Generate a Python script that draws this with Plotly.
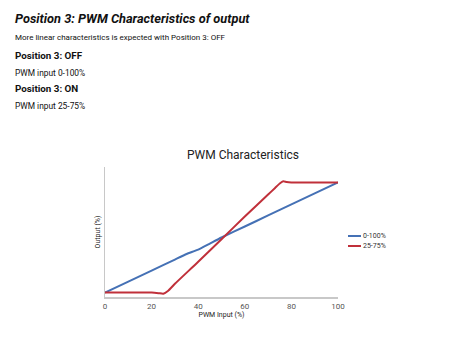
import plotly.graph_objects as go

# Data
pwm_input_full = [0, 10, 20, 30, 35, 40, 45, 50, 60, 70, 80, 90, 100]
output_full = [0, 10, 20, 30, 35, 39, 44.5, 50, 60, 70, 80, 90, 100]

pwm_input_limited = [0, 10, 20, 23, 25, 27, 30, 40, 50, 60, 70, 73, 75, 76.5, 78, 80, 90, 100]
output_limited = [0, 0, 0, -0.5, -1, 1.5, 8, 28, 48.5, 69, 89, 95, 99, 101, 100.3, 100, 100, 100]

series_names = ["0-100%", "25-75%"]
series_colors = ["#4571b5", "#c0303a"]
x_ticks = [0, 20, 40, 60, 80, 100]

OFF = 8  # page body margin
W, H = 458, 339
L, T = 105 - OFF, 167 - OFF
PR, PB = 338 - OFF, 297 - OFF
R, B = W - PR, H - PB
PW, PH = PR - L, PB - T

def px(x):
    return (x - OFF - L) / PW

def py(y):
    return (PB - (y - OFF)) / PH

FONT = "Roboto"

fig = go.Figure()
fig.add_trace(go.Scatter(x=pwm_input_full, y=output_full, mode="lines", name=series_names[0],
                         line=dict(color=series_colors[0], width=2, shape="spline", smoothing=0.5)))
fig.add_trace(go.Scatter(x=pwm_input_limited, y=output_limited, mode="lines", name=series_names[1],
                         line=dict(color=series_colors[1], width=2, shape="spline", smoothing=0.5)))

anns = [
    dict(text="<b><i>Position 3: PWM Characteristics of output</i></b>", x=px(13), y=py(18), size=12.8),
    dict(text="More linear characteristics is expected with Position 3: OFF", x=px(13), y=py(37), size=8),
    dict(text="<b>Position 3: OFF</b>", x=px(13), y=py(55), size=9.8),
    dict(text="PWM input 0-100%", x=px(13), y=py(73), size=8.4),
    dict(text="<b>Position 3: ON</b>", x=px(13), y=py(89), size=9.8),
    dict(text="PWM input 25-75%", x=px(13), y=py(106), size=8.4),
]
for a in anns:
    fig.add_annotation(text=a["text"], x=a["x"], y=a["y"], xref="paper", yref="paper",
                       xanchor="left", yanchor="middle", showarrow=False,
                       font=dict(family=FONT, size=a["size"], color="#111111"))

fig.add_annotation(text="PWM Characteristics", x=px(243), y=py(155), xref="paper", yref="paper",
                   xanchor="center", yanchor="middle", showarrow=False,
                   font=dict(family=FONT, size=12, color="#222222"))

# compact legend
for i, (name, col) in enumerate(zip(series_names, series_colors)):
    ly = py(236 + 10 * i)
    fig.add_shape(type="line", xref="paper", yref="paper", x0=px(348), x1=px(361), y0=ly, y1=ly,
                  line=dict(color=col, width=2))
    fig.add_annotation(text=name, x=px(361), y=ly, xref="paper", yref="paper",
                       xanchor="left", yanchor="middle", showarrow=False,
                       font=dict(family=FONT, size=7, color="#333333"))

fig.update_layout(
    width=W, height=H,
    margin=dict(l=L, r=R, t=T, b=B),
    paper_bgcolor="white", plot_bgcolor="white",
    font=dict(family=FONT, color="#333333"),
    showlegend=False,
    xaxis=dict(range=[0, 100], tickvals=x_ticks, showgrid=False, zeroline=False,
               showline=True, linecolor="#c8c8c8", linewidth=2,
               tickfont=dict(family=FONT, size=8, color="#555555"),
               title=dict(text="PWM Input (%)", font=dict(family=FONT, size=7, color="#222222"), standoff=2),
               ticks="", fixedrange=True),
    yaxis=dict(range=[-4, 114], showticklabels=False, showgrid=False, zeroline=False,
               showline=True, linecolor="#c8c8c8", linewidth=1,
               title=dict(text="Output (%)", font=dict(family=FONT, size=7, color="#222222"), standoff=2),
               ticks="", fixedrange=True),
)

fig.write_html("out.html")
